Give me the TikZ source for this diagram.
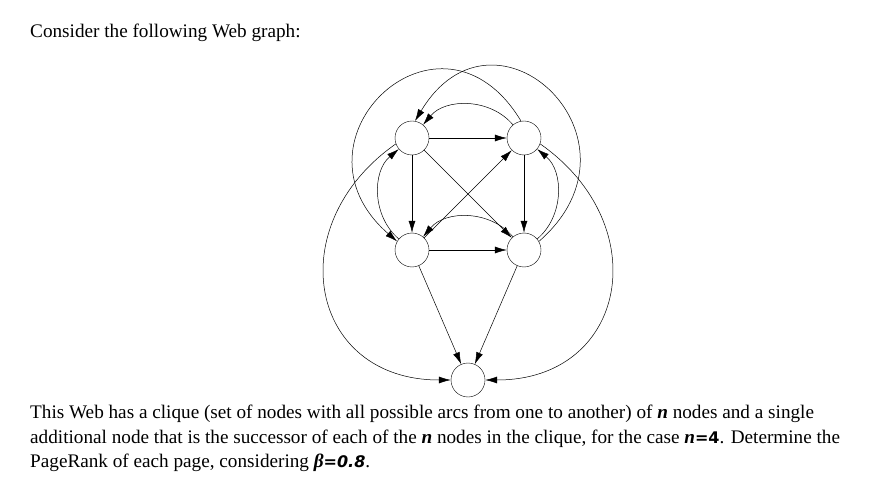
\documentclass[tikz,border=0pt]{standalone}
\usepackage{fontspec}
\setmainfont{Liberation Serif}
\newfontfamily\monob{DejaVu Sans}
\usetikzlibrary{arrows.meta}
\begin{document}
\begin{tikzpicture}[x=1pt,y=1pt,
  v/.style={circle,draw,minimum size=34pt,inner sep=0pt},
  e/.style={-{Latex[length=12pt,width=7pt]},line width=0.5pt},
  t/.style={anchor=base west,inner sep=0pt,font=\fontsize{19.2}{23}\selectfont}]
\useasboundingbox (0,0) rectangle (884,480);
\node[v] (A) at (412,342) {};
\node[v] (B) at (524,342) {};
\node[v] (C) at (412,230) {};
\node[v] (D) at (524,230) {};
\node[v] (E) at (468,100) {};
\draw[e] (A) -- (B);
\draw[e] (A) -- (C);
\draw[e] (A) -- (D);
\draw[e] (C) -- (B);
\draw[e] (B) -- (D);
\draw[e] (C) -- (D);
\draw[e] (C) -- (E);
\draw[e] (D) -- (E);
\draw[e] (B) to[bend right=50] (A);
\draw[e] (D) to[bend right=50] (C);
\draw[e] (C) to[bend left=50] (A);
\draw[e] (D) to[bend right=50] (B);
\draw[e] (B.100) to[out=121,in=139,looseness=2.3] (C.150);
\draw[e] (D.30) to[out=41,in=59,looseness=2.3] (A.80);
\draw[e] (A.200) to[out=215,in=180,looseness=1.5] (E.west);
\draw[e] (B.-20) to[out=-35,in=0,looseness=1.5] (E.east);
\node[t] (t0) at (30,442) {Consider the following Web graph:};
\node[t] (t1) at (30,62) {This Web has a clique (set of nodes with all possible arcs from one to another) of \textbf{\textit{n}} nodes and a single};
\node[t] (t2) at (30,37) {additional node that is the successor of each of the \textbf{\textit{n}} nodes in the clique, for the case \textbf{\textit{n}}{\monob\bfseries\fontsize{16}{20}\selectfont =4}. Determine the};
\node[t] (t3) at (30,13) {PageRank of each page, considering \textbf{\textit{β}}{\monob\bfseries\itshape\fontsize{16}{20}\selectfont =0.8}.};
\end{tikzpicture}
\end{document}
